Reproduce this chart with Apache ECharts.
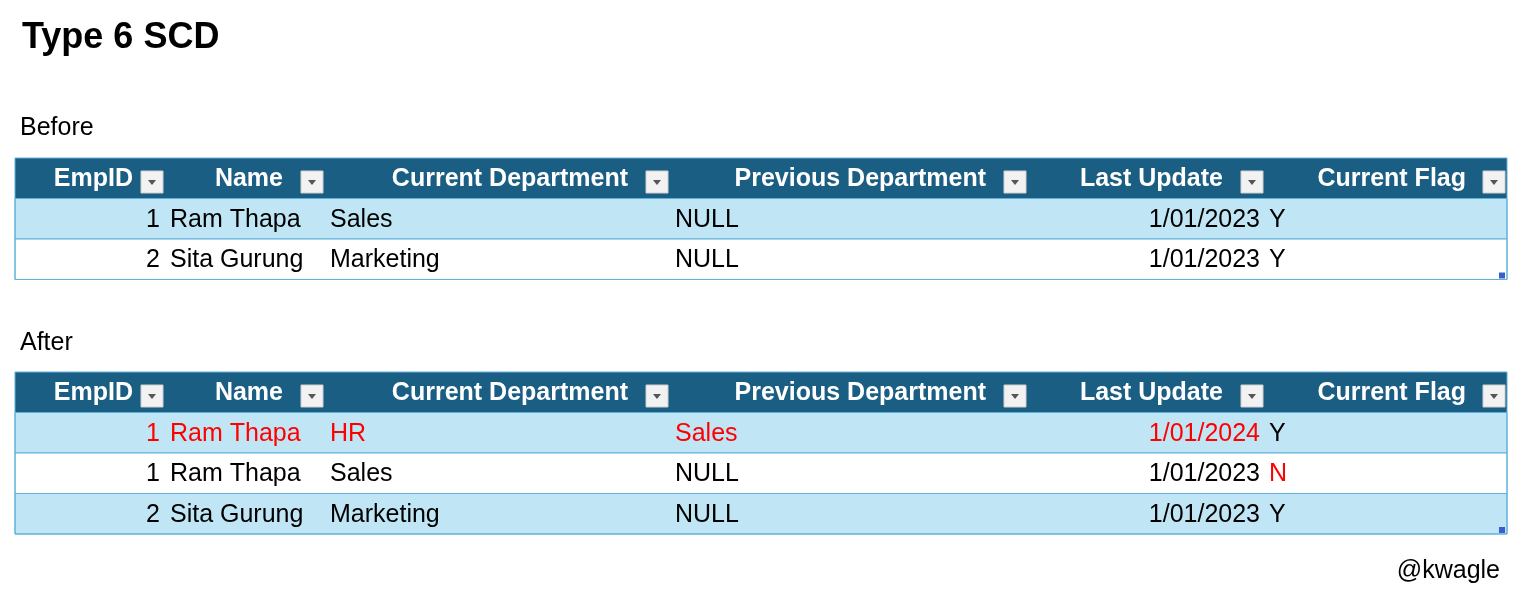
<!DOCTYPE html>
<html>
<head>
<meta charset="utf-8">
<script src="https://cdn.jsdelivr.net/npm/echarts@6/dist/echarts.min.js"></script>
<style>html,body{margin:0;padding:0;background:#fff}#main{width:1536px;height:604px}</style>
</head>
<body>
<div id="main"></div>
<script>
var columns = ['EmpID', 'Name', 'Current Department', 'Previous Department', 'Last Update', 'Current Flag'];
var beforeRows = [
    ['1', 'Ram Thapa', 'Sales', 'NULL', '1/01/2023', 'Y'],
    ['2', 'Sita Gurung', 'Marketing', 'NULL', '1/01/2023', 'Y']
];
var afterRows = [
    ['1', 'Ram Thapa', 'HR', 'Sales', '1/01/2024', 'Y'],
    ['1', 'Ram Thapa', 'Sales', 'NULL', '1/01/2023', 'N'],
    ['2', 'Sita Gurung', 'Marketing', 'NULL', '1/01/2023', 'Y']
];
// cells shown in red in the "after" table: [row, col]
var afterRed = [[0,0],[0,1],[0,2],[0,3],[0,4],[1,5]];

var chart = echarts.init(document.getElementById('main'));
var FONT = '"Liberation Sans", Arial, sans-serif';
var left = 15, right = 1507, rowH = 40.5;
var colEdges = [15, 165, 325, 670, 1030, 1265, 1507];
var headRight = [133, 283, 628, 986, 1223, 1466];
var ddX = [141, 301, 646, 1004, 1241, 1483];
// alignment of body cells: right aligned at x, or left aligned at x
var bodyPos = [[160,'right'],[170,'left'],[330,'left'],[675,'left'],[1260,'right'],[1269,'left']];

function isRed(list, r, c){
    for (var i = 0; i < list.length; i++) if (list[i][0] === r && list[i][1] === c) return true;
    return false;
}

function table(top, rows, red){
    var els = [];
    els.push({type:'rect', shape:{x:left, y:top, width:right-left, height:rowH}, style:{fill:'#1B5E83'}});
    columns.forEach(function(c, i){
        els.push({type:'text', style:{x:headRight[i], y:top+rowH/2+1, text:c, fill:'#fff', font:'bold 25px '+FONT, textAlign:'right', textVerticalAlign:'middle'}});
        els.push({type:'rect', shape:{x:ddX[i], y:top+13, width:22, height:22}, style:{fill:'#f2f2f2', stroke:'#d0d0d0', lineWidth:1}});
        els.push({type:'polygon', shape:{points:[[ddX[i]+7,top+22],[ddX[i]+15,top+22],[ddX[i]+11,top+27]]}, style:{fill:'#555'}});
    });
    rows.forEach(function(row, r){
        var y = top + rowH*(r+1);
        els.push({type:'rect', shape:{x:left, y:y, width:right-left, height:rowH}, style:{fill: r%2===0 ? '#C0E6F5' : '#ffffff', stroke:'#5FB0DC', lineWidth:1}});
        row.forEach(function(v, c){
            els.push({type:'text', style:{x:bodyPos[c][0], y:y+rowH/2+1, text:v, fill: isRed(red, r, c) ? '#FF0000' : '#000', font:'25px '+FONT, textAlign:bodyPos[c][1], textVerticalAlign:'middle'}});
        });
    });
    var bottom = top + rowH*(rows.length+1);
    els.push({type:'rect', shape:{x:left, y:top, width:right-left, height:bottom-top}, style:{fill:'none', stroke:'#5FB0DC', lineWidth:1}});
    els.push({type:'rect', shape:{x:right-8, y:bottom-7, width:6, height:6}, style:{fill:'#3A5FCD'}});
    return els;
}

var elements = [
    {type:'text', style:{x:22, y:38, text:'Type 6 SCD', fill:'#000', font:'bold 36px '+FONT, textVerticalAlign:'middle'}},
    {type:'text', style:{x:20, y:128, text:'Before', fill:'#000', font:'25px '+FONT, textVerticalAlign:'middle'}},
    {type:'text', style:{x:20, y:343, text:'After', fill:'#000', font:'25px '+FONT, textVerticalAlign:'middle'}},
    {type:'text', style:{x:1500, y:571, text:'@kwagle', fill:'#000', font:'25px '+FONT, textAlign:'right', textVerticalAlign:'middle'}}
].concat(table(158, beforeRows, [])).concat(table(372, afterRows, afterRed));

chart.setOption({
    animation: false,
    backgroundColor: '#fff',
    graphic: {elements: elements}
});
</script>
</body>
</html>
